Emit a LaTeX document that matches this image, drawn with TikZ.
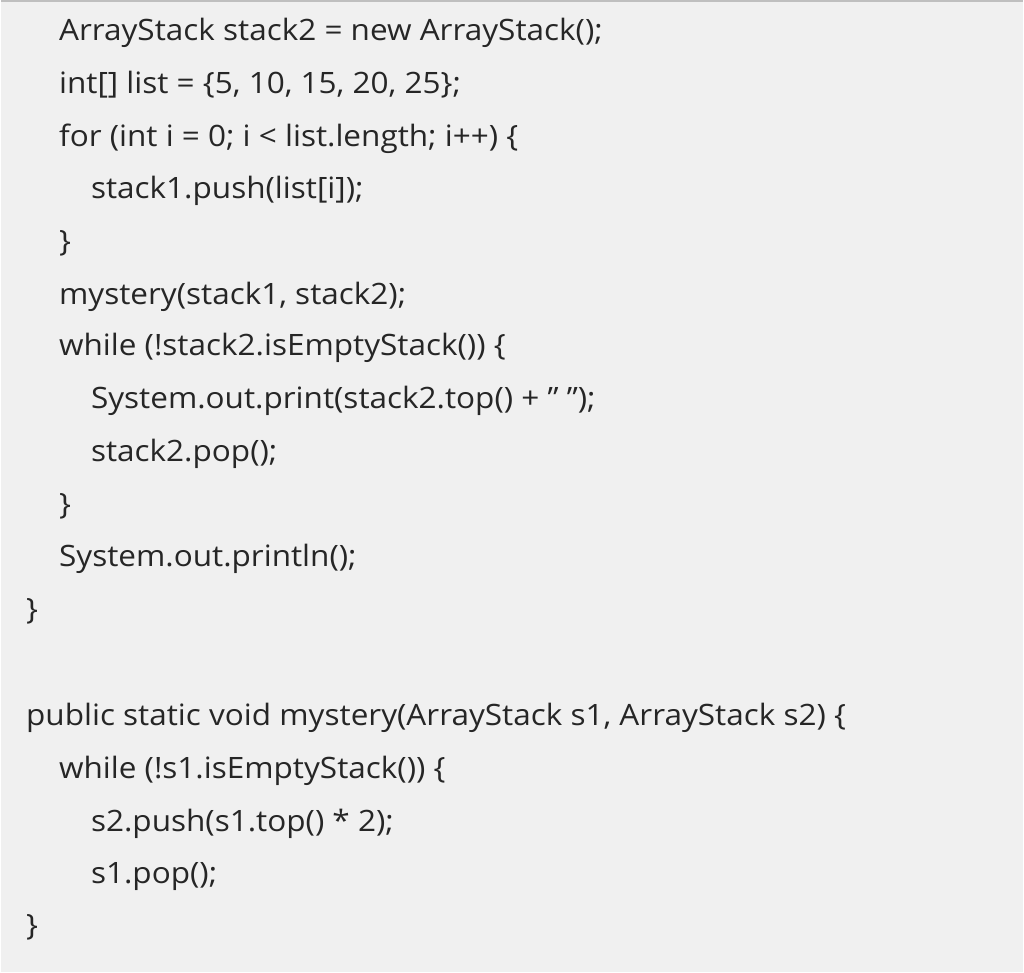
\documentclass[tikz,border=0pt]{standalone}
\usepackage{fontspec}
\setmainfont[FakeStretch=1.07]{Open Sans}
\begin{document}
\begin{tikzpicture}[x=1pt,y=-1pt,
  code/.style={anchor=mid west,inner sep=0pt,font=\fontsize{29.5}{35}\selectfont,text=black!85}]
\fill[black!6] (0,0) rectangle (1024,974);
\draw[black!25,line width=2pt] (0,1) -- (1024,1);
\useasboundingbox (0,0) rectangle (1024,974);
\node[code] (l1) at (58,38) {ArrayStack stack2 = new ArrayStack();};
\node[code] (l2) at (58,91) {int[] list = \{5, 10, 15, 20, 25\};};
\node[code] (l3) at (58,144) {for (int i = 0; i < list.length; i++) \{};
\node[code] (l4) at (90,196) {stack1.push(list[i]);};
\node[code] (l5) at (58,249) {\}};
\node[code] (l6) at (58,302) {mystery(stack1, stack2);};
\node[code] (l7) at (58,354) {while (!stack2.isEmptyStack()) \{};
\node[code] (l8) at (90,407) {System.out.print(stack2.top() + \char34\ \char34);};
\node[code] (l9) at (90,460) {stack2.pop();};
\node[code] (l10) at (58,513) {\}};
\node[code] (l11) at (58,565) {System.out.println();};
\node[code] (l12) at (25,618) {\}};
\node[code] (l13) at (25,724) {public static void mystery(ArrayStack s1, ArrayStack s2) \{};
\node[code] (l14) at (58,777) {while (!s1.isEmptyStack()) \{};
\node[code] (l15) at (90,830) {s2.push(s1.top() * 2);};
\node[code] (l16) at (90,883) {s1.pop();};
\node[code] (l17) at (25,935) {\}};
\end{tikzpicture}
\end{document}
